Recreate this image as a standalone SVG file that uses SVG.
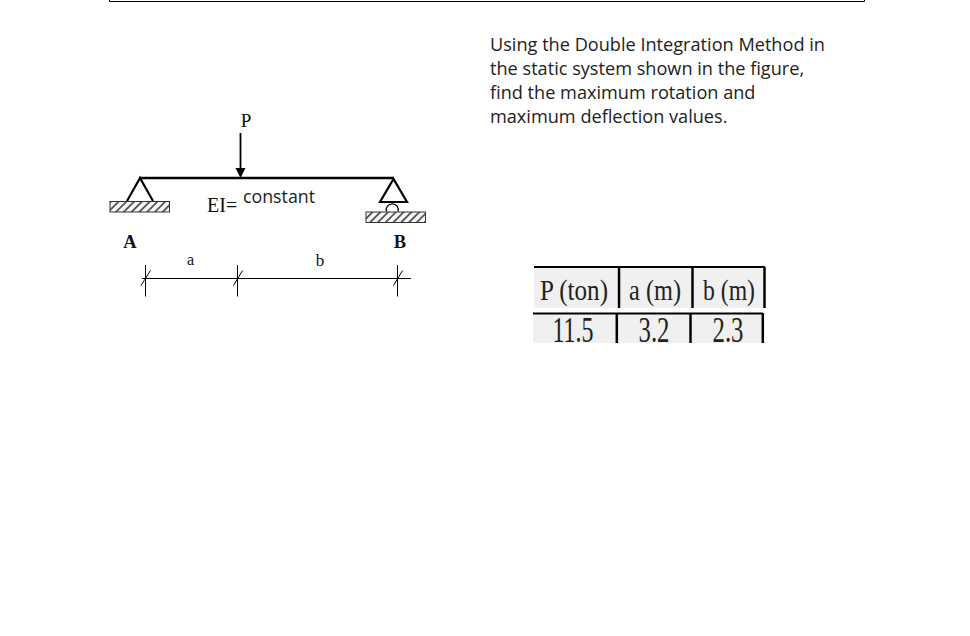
<svg xmlns="http://www.w3.org/2000/svg" width="970" height="636" viewBox="0 0 970 636">
<style>
.s{fill:none;stroke:#000}
.t{font-family:"Liberation Serif",serif;fill:#111}
.c{font-family:"Open Sans","Noto Sans",sans-serif;fill:#222}
.q{font-family:"Open Sans","Noto Sans",sans-serif;font-size:18.150px;fill:#222}
.g{fill:url(#h);stroke:#333;stroke-width:1}
.cell{fill:#f0f0f0}
.k{fill:#000}
.h{font-family:"Liberation Serif",serif;font-size:30px;fill:#222;text-anchor:middle}
.d{font-family:"Liberation Serif",serif;font-size:35px;fill:#222;text-anchor:middle}
</style>
<defs>
<pattern id="h" width="5.500" height="5.500" patternUnits="userSpaceOnUse" patternTransform="rotate(45)">
<rect width="5.500" height="5.500" fill="#f7f7f7"/><rect width="1.800" height="5.500" fill="#555"/>
</pattern>
</defs>
<rect width="970" height="636" fill="#fff"/>
<path id="frame" class="s" d="M109.500 -2V1.500H864.500V-2"/>
<g id="question">
<text class="q" x="490" y="50.500">Using the Double Integration Method in</text>
<text class="q" x="490" y="74.500">the static system shown in the figure,</text>
<text class="q" x="490" y="98.500">find the maximum rotation and</text>
<text class="q" x="490" y="122.500">maximum deflection values.</text>
</g>
<g id="beam">
<path class="s" stroke-width="2.600" d="M139 178H394"/>
<text class="t" x="246" y="127" font-size="19" text-anchor="middle">P</text>
<text class="t" x="207" y="212" font-size="20">EI=</text>
<text class="c" x="243" y="203" font-size="17.800">constant</text>
</g>
<g id="load">
<path class="s" stroke-width="1.800" d="M240.500 133V170"/>
<path class="k" d="M235.500 168H245.500L240.500 178Z"/>
</g>
<g id="support-a">
<path class="s" stroke-width="2.200" stroke-linejoin="miter" d="M127 201L140 178L153 201"/>
<rect class="g" x="110" y="201.500" width="59.500" height="10.500"/>
<text class="t" x="130" y="248" font-size="18.500" font-weight="bold" text-anchor="middle">A</text>
</g>
<g id="support-b">
<path class="s" stroke-width="2.200" d="M393.500 179L380 202H407Z"/>
<path class="s" stroke-width="1.300" d="M386.500 211.500A6 6 0 1 1 398 211.500"/>
<rect class="g" x="366" y="212" width="59.500" height="10.500"/>
<text class="t" x="400" y="248" font-size="18.500" font-weight="bold" text-anchor="middle">B</text>
</g>
<g id="dimensions">
<path class="s" stroke-width="1" d="M142 278.500H411M145.500 265V296.500M237.500 265V296.500M397.500 265V296.500M141 285.500L150.500 270.500M233.500 285.500L242.500 270.500M393.500 285.500L402.500 270.500"/>
<text class="t" x="190.500" y="265" font-size="16" text-anchor="middle">a</text>
<text class="t" x="320" y="266" font-size="17" text-anchor="middle">b</text>
</g>
<g id="table">
<rect class="cell" x="534" y="268" width="83" height="40"/>
<rect class="cell" x="620" y="268" width="71" height="40"/>
<rect class="cell" x="694" y="268" width="70" height="40"/>
<rect class="cell" x="533" y="314" width="83" height="29"/>
<rect class="cell" x="618" y="314" width="71" height="29"/>
<rect class="cell" x="692" y="314" width="70" height="29"/>
<path class="s" stroke-width="2" d="M534 267H765M533 313.500H763"/>
<path class="s" stroke-width="2.500" d="M619 267V308M692.500 267V308M764.500 267V308M616.800 313V343M690.500 313V343M762.800 313V343"/>
<text class="h" x="574" y="300" textLength="68" lengthAdjust="spacingAndGlyphs">P (ton)</text>
<text class="h" x="655" y="300" textLength="52" lengthAdjust="spacingAndGlyphs">a (m)</text>
<text class="h" x="729" y="300" textLength="52" lengthAdjust="spacingAndGlyphs">b (m)</text>
<text class="d" x="573" y="342" textLength="41" lengthAdjust="spacingAndGlyphs">11.5</text>
<text class="d" x="654" y="342" textLength="31" lengthAdjust="spacingAndGlyphs">3.2</text>
<text class="d" x="728" y="342" textLength="31" lengthAdjust="spacingAndGlyphs">2.3</text>
</g>
</svg>
